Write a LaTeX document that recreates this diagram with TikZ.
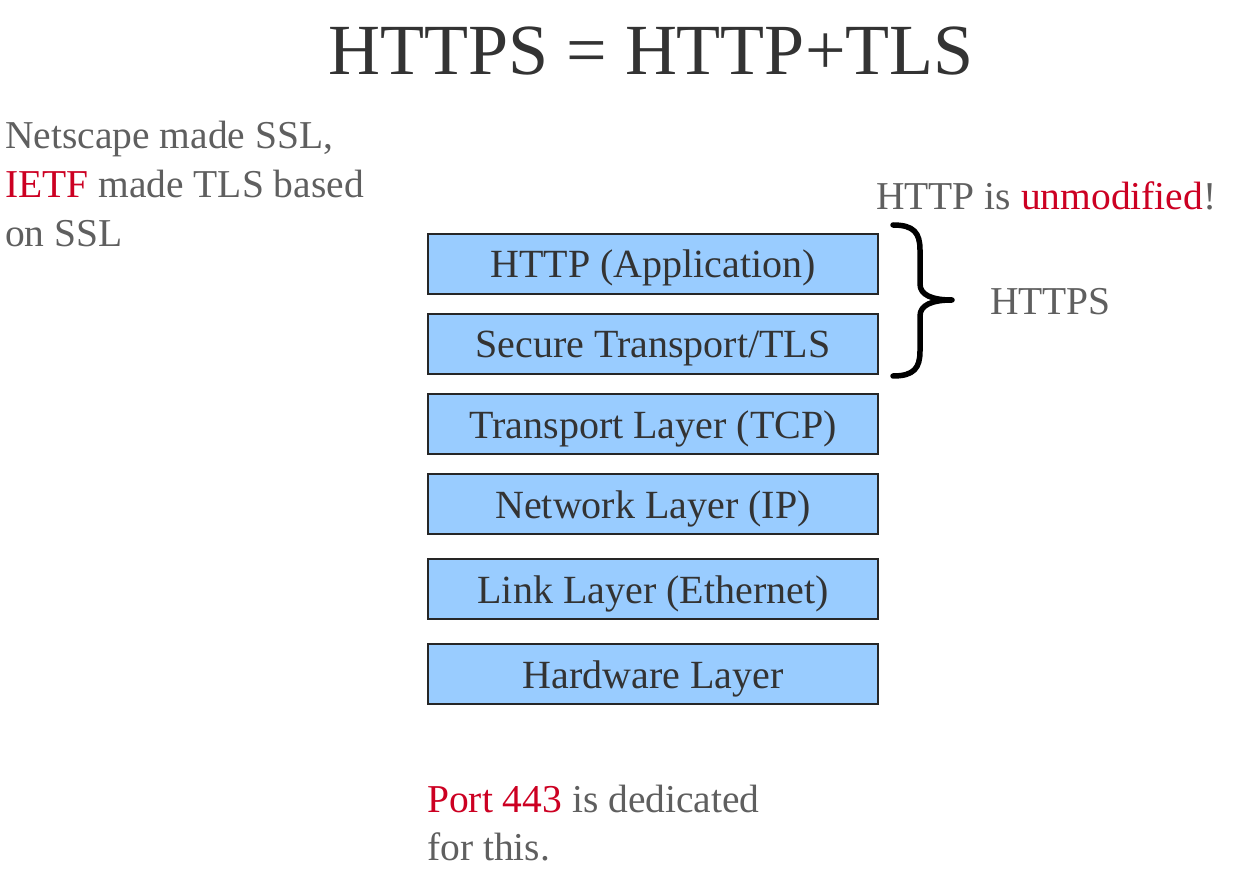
\documentclass[tikz,border=0pt]{standalone}
\usepackage{fontspec}
\setmainfont{Liberation Serif}
\definecolor{boxblue}{HTML}{99CCFF}
\definecolor{txtgray}{HTML}{5F5F5F}
\definecolor{txtred}{HTML}{CC0022}
\definecolor{darktxt}{HTML}{333333}
\begin{document}
\begin{tikzpicture}[x=1pt,y=-1pt,
  layerbox/.style={draw=black!85, line width=1.5pt, fill=boxblue,
    minimum width=450pt, minimum height=60pt, inner sep=0pt,
    text height=32pt, text depth=4pt,
    font=\fontsize{40}{48}\selectfont, text=darktxt},
  bodytext/.style={inner sep=0pt, anchor=base west,
    font=\fontsize{39.5}{48}\selectfont, text=txtgray},
  titletext/.style={inner sep=0pt, anchor=base,
    font=\fontsize{72}{80}\selectfont, text=darktxt},
  bracestyle/.style={draw=black, line width=5.5pt, line cap=round, line join=round}]
\useasboundingbox (0,0) rectangle (1248,877);

\node[titletext] (title) at (651,75) {HTTPS = HTTP+TLS};

\node[bodytext] (l1) at (5,149) {Netscape made SSL,};
\node[bodytext] (l2) at (5,198) {\textcolor{txtred}{IETF} made TLS based};
\node[bodytext] (l3) at (5,247) {on SSL};

\node[layerbox] (http) at (653,264) {HTTP (Application)};
\node[layerbox] (tls)  at (653,344) {Secure Transport/TLS};
\node[layerbox] (tcp)  at (653,424) {Transport Layer (TCP)};
\node[layerbox] (ip)   at (653,504) {Network Layer (IP)};
\node[layerbox] (link) at (653,589) {Link Layer (Ethernet)};
\node[layerbox] (hw)   at (653,674) {Hardware Layer};

\node[bodytext] (unmod) at (876,210) {HTTP is \textcolor{txtred}{unmodified}!};
\node[bodytext] (https) at (990,315) {HTTPS};

\coordinate (btop) at (893,225);
\coordinate (btip) at (952,300);
\coordinate (bbot) at (893,376);
\draw[bracestyle] (btop) .. controls (914,225) and (920,233) .. (920,250)
  -- (920,284) .. controls (920,295) and (932,300) .. (btip)
  .. controls (932,300) and (920,305) .. (920,316)
  -- (920,351) .. controls (920,368) and (914,376) .. (bbot);

\node[bodytext] (port1) at (427,812) {\textcolor{txtred}{Port 443} is dedicated};
\node[bodytext] (port2) at (427,860) {for this.};
\end{tikzpicture}
\end{document}
